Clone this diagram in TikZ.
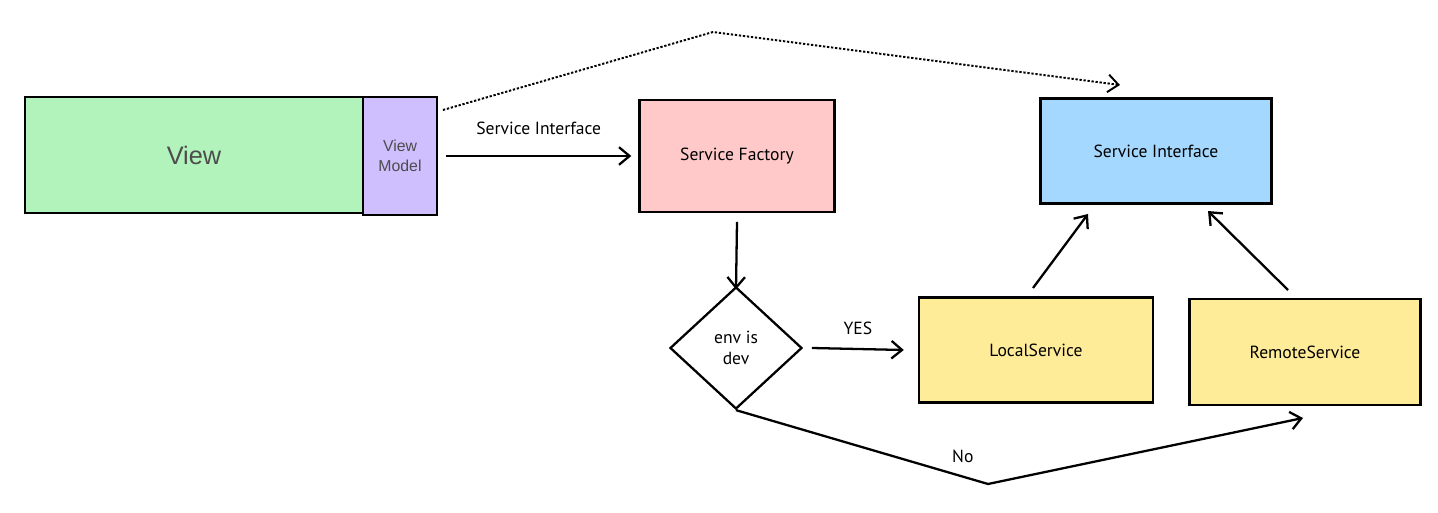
\documentclass[tikz,border=0pt]{standalone}
\usepackage{fontspec}
\setmainfont{Liberation Sans}
\newfontfamily\hand{PT Sans}
\usetikzlibrary{shapes.geometric,arrows.meta}
\definecolor{cgreen}{HTML}{B2F2BB}
\definecolor{cpurple}{HTML}{D0BFFF}
\definecolor{cpink}{HTML}{FFC9C9}
\definecolor{cblue}{HTML}{A5D8FF}
\definecolor{cyellow}{HTML}{FFEC99}
\begin{document}
\begin{tikzpicture}[x=0.02cm,y=-0.02cm,
  box/.style={draw=black,line width=1.3pt,inner sep=0pt},
  lbl/.style={font=\hand\normalsize},
  arr/.style={line width=1.3pt,-{Straight Barb[length=6pt,width=10pt]}}]
\useasboundingbox (0,0) rectangle (1438,513);
\node[box,fill=cgreen,minimum width=338*0.02cm,minimum height=116*0.02cm,font=\Large,text=black!70] (view) at (194,155) {View};
\node[box,fill=cpurple,minimum width=74*0.02cm,minimum height=118*0.02cm,align=center,font=\small,text=black!70] (vm) at (400,156) {View\\Model};
\node[box,fill=cpink,minimum width=195*0.02cm,minimum height=112*0.02cm,lbl] (sf) at (737,156) {Service Factory};
\node[box,fill=cblue,minimum width=231*0.02cm,minimum height=105*0.02cm,lbl] (si) at (1156,151) {Service Interface};
\node[box,diamond,draw,minimum width=132*0.02cm,minimum height=122*0.02cm,aspect=1.08,lbl,align=center] (d) at (736,348) {env is\\dev};
\node[box,fill=cyellow,minimum width=234*0.02cm,minimum height=105*0.02cm,lbl] (ls) at (1036,350) {LocalService};
\node[box,fill=cyellow,minimum width=231*0.02cm,minimum height=106*0.02cm,lbl] (rs) at (1305,352) {RemoteService};
\coordinate (v1) at (988,484);
\coordinate (t1) at (713,32);
\coordinate (tend) at (1120,85);
\draw[arr] (vm.east|-0,156) ++(8,0) coordinate (a0) -- node[above=8pt,lbl]{Service Interface} ([xshift=-4pt]sf.west);
\draw[arr] ([yshift=-5pt]sf.south) -- ([yshift=-2pt]d.north);
\draw[arr] ([xshift=5pt]d.east) -- node[above=4pt,lbl]{YES} ([xshift=-8pt]ls.west);
\draw[arr] (d.south) -- (v1) node[pos=0.9,above=4pt,lbl]{No} -- (1303,418);
\draw[arr] (1033,288) -- (1088,214);
\draw[arr] (1288,290) -- (1208,211);
\draw[arr,densely dotted,line width=1.1pt] (443,110) -- (t1) -- (tend);
\end{tikzpicture}
\end{document}
